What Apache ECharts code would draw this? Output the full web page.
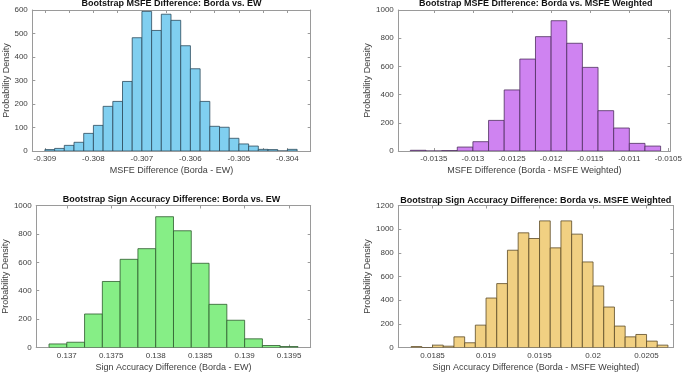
<!DOCTYPE html>
<html>
<head>
<meta charset="utf-8">
<script src="https://cdn.jsdelivr.net/npm/echarts@6/dist/echarts.min.js"></script>
<style>
  html, body { margin: 0; padding: 0; background: #fff; }
  #chart { width: 685px; height: 373px; }
</style>
</head>
<body>
<div id="chart"></div>
<script>
// bin edges and pdf heights
const msfeEwEdges = [-0.309, -0.3088, -0.3086, -0.3084, -0.3082, -0.308, -0.3078, -0.3076, -0.3074, -0.3072,
  -0.307, -0.3068, -0.3066, -0.3064, -0.3062, -0.306, -0.3058, -0.3056, -0.3054, -0.3052,
  -0.305, -0.3048, -0.3046, -0.3044, -0.3042, -0.304, -0.3038];
const msfeEwDensity = [6, 11, 24, 37, 75, 109, 190, 211, 296, 482, 594, 513, 582, 556, 448, 350, 211, 105, 101, 54, 30, 21, 7, 6, 0, 7];
const msfeEwTicks = [-0.309, -0.308, -0.307, -0.306, -0.305, -0.304];
const msfeEwTickMarks = [-0.309, -0.3085, -0.308, -0.3075, -0.307, -0.3065, -0.306, -0.3055, -0.305, -0.3045, -0.304];
const msfeEwRange = [-0.30926, -0.30352];

const msfeWtEdges = [-0.0138, -0.0136, -0.0134, -0.0132, -0.013, -0.0128, -0.0126, -0.0124, -0.0122, -0.012,
  -0.0118, -0.0116, -0.0114, -0.0112, -0.011, -0.0108, -0.0106];
const msfeWtDensity = [5, 0, 3, 28, 66, 217, 433, 652, 811, 924, 764, 593, 286, 163, 54, 35];
const msfeWtTicks = [-0.0135, -0.013, -0.0125, -0.012, -0.0115, -0.011, -0.0105];
const msfeWtRange = [-0.013954, -0.010473];

const signEwEdges = [0.1368, 0.137, 0.1372, 0.1374, 0.1376, 0.1378, 0.138, 0.1382, 0.1384, 0.1386, 0.1388, 0.139, 0.1392, 0.1394, 0.1396];
const signEwDensity = [25, 37, 236, 465, 621, 696, 921, 822, 593, 304, 192, 61, 14, 7];
const signEwTicks = [0.137, 0.1375, 0.138, 0.1385, 0.139, 0.1395];
const signEwRange = [0.136656, 0.139743];

const signWtEdges = [0.0183, 0.0184, 0.0185, 0.0186, 0.0187, 0.0188, 0.0189, 0.019, 0.0191, 0.0192, 0.0193, 0.0194,
  0.0195, 0.0196, 0.0197, 0.0198, 0.0199, 0.02, 0.0201, 0.0202, 0.0203, 0.0204, 0.0205, 0.0206, 0.0207];
const signWtDensity = [8, 0, 20, 11, 90, 40, 189, 418, 540, 822, 969, 921, 1070, 842, 1070, 958, 723, 520, 342, 181, 90, 110, 54, 20];
const signWtTicks = [0.0185, 0.019, 0.0195, 0.02, 0.0205];
const signWtRange = [0.01818, 0.02075];

const FONT = '"Liberation Sans", Arial, sans-serif';
const BOX = '#9a9a9a';
const TEXT = '#404040';

const panels = [
  {
    title: 'Bootstrap MSFE Difference: Borda vs. EW',
    xName: 'MSFE Difference (Borda - EW)',
    edges: msfeEwEdges, density: msfeEwDensity,
    ticks: msfeEwTicks, tickMarks: msfeEwTickMarks, range: msfeEwRange,
    yMax: 600, yStep: 100,
    fill: '#80cff0', edge: '#2c4a5c',
    box: { left: 32.3, top: 10, width: 278.4, height: 141 },
    titleY: 4, yGap: 19.5
  },
  {
    title: 'Bootstrap MSFE Difference: Borda vs. MSFE Weighted',
    xName: 'MSFE Difference (Borda - MSFE Weighted)',
    edges: msfeWtEdges, density: msfeWtDensity,
    ticks: msfeWtTicks, tickMarks: msfeWtTicks, range: msfeWtRange,
    yMax: 1000, yStep: 200,
    fill: '#cf83f1', edge: '#4e2e60',
    box: { left: 398.3, top: 10, width: 275, height: 141 },
    titleY: 4, yGap: 24
  },
  {
    title: 'Bootstrap Sign Accuracy Difference: Borda vs. EW',
    xName: 'Sign Accuracy Difference (Borda - EW)',
    edges: signEwEdges, density: signEwDensity,
    ticks: signEwTicks, tickMarks: signEwTicks, range: signEwRange,
    yMax: 1000, yStep: 200,
    fill: '#86ee86', edge: '#2d5a2d',
    box: { left: 32.3, top: 205.5, width: 278.4, height: 142.2 },
    titleY: 199.5, yGap: 24
  },
  {
    title: 'Bootstrap Sign Accuracy Difference: Borda vs. MSFE Weighted',
    xName: 'Sign Accuracy Difference (Borda - MSFE Weighted)',
    edges: signWtEdges, density: signWtDensity,
    ticks: signWtTicks, tickMarks: signWtTicks, range: signWtRange,
    yMax: 1200, yStep: 200,
    fill: '#f1d082', edge: '#5c4a26',
    box: { left: 398.3, top: 205.5, width: 275, height: 142.2 },
    titleY: 200.5, yGap: 24
  }
];

const grid = [];
const xAxis = [];
const yAxis = [];
const series = [];
const graphic = [];

panels.forEach((p, i) => {
  grid.push(Object.assign({ containLabel: false }, p.box));

  const tickStyle = { show: true, inside: true, length: 3, lineStyle: { color: BOX, width: 1 } };

  xAxis.push({
    type: 'value', gridIndex: i, position: 'bottom',
    min: p.range[0], max: p.range[1],
    name: p.xName, nameLocation: 'middle', nameGap: 15.5,
    nameTextStyle: { fontFamily: FONT, fontSize: 9, color: TEXT },
    axisLine: { show: true, onZero: false, lineStyle: { color: BOX, width: 1 } },
    axisTick: Object.assign({ customValues: p.tickMarks }, tickStyle),
    axisLabel: { customValues: p.ticks, margin: 4, fontFamily: FONT, fontSize: 8, color: TEXT, showMinLabel: true, showMaxLabel: true },
    splitLine: { show: false }
  });
  xAxis.push({
    type: 'value', gridIndex: i, position: 'top',
    min: p.range[0], max: p.range[1],
    axisLine: { show: true, onZero: false, lineStyle: { color: BOX, width: 1 } },
    axisTick: Object.assign({ customValues: p.tickMarks }, tickStyle),
    axisLabel: { show: false },
    splitLine: { show: false }
  });

  yAxis.push({
    type: 'value', gridIndex: i, position: 'left',
    min: 0, max: p.yMax, interval: p.yStep,
    name: 'Probability Density', nameLocation: 'middle', nameGap: p.yGap,
    nameTextStyle: { fontFamily: FONT, fontSize: 9, color: TEXT },
    axisLine: { show: true, onZero: false, lineStyle: { color: BOX, width: 1 } },
    axisTick: tickStyle,
    axisLabel: { margin: 4.5, fontFamily: FONT, fontSize: 8, color: TEXT, formatter: v => String(v) },
    splitLine: { show: false }
  });
  yAxis.push({
    type: 'value', gridIndex: i, position: 'right',
    min: 0, max: p.yMax, interval: p.yStep,
    axisLine: { show: true, onZero: false, lineStyle: { color: BOX, width: 1 } },
    axisTick: tickStyle,
    axisLabel: { show: false },
    splitLine: { show: false }
  });

  const data = p.density.map((d, k) => [p.edges[k], p.edges[k + 1], d]);

  series.push({
    type: 'custom',
    xAxisIndex: i * 2,
    yAxisIndex: i * 2,
    clip: true,
    silent: true,
    encode: { x: [0, 1], y: 2 },
    data,
    renderItem(params, api) {
      const top = api.coord([api.value(0), api.value(2)]);
      const bottom = api.coord([api.value(1), 0]);
      return {
        type: 'rect',
        shape: { x: top[0], y: top[1], width: bottom[0] - top[0], height: bottom[1] - top[1] },
        style: { fill: p.fill, stroke: p.edge, lineWidth: 0.8 }
      };
    }
  });

  graphic.push({
    type: 'text',
    x: p.box.left + p.box.width / 2,
    y: p.titleY,
    style: {
      text: p.title,
      align: 'center',
      verticalAlign: 'middle',
      fontFamily: FONT,
      fontSize: 9,
      fontWeight: 'bold',
      fill: '#111'
    }
  });
});

const chart = echarts.init(document.getElementById('chart'));
chart.setOption({
  animation: false,
  backgroundColor: '#fff',
  grid,
  xAxis,
  yAxis,
  series,
  graphic
});
</script>
</body>
</html>
